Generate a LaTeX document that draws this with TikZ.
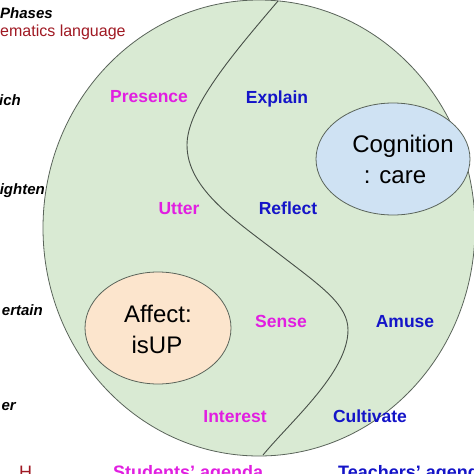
\documentclass[tikz,border=0pt]{standalone}
\usepackage{fontspec}
\setmainfont{Liberation Sans}
\usetikzlibrary{shapes.geometric}
\definecolor{bgreen}{RGB}{217,234,211}
\definecolor{cblue}{RGB}{207,226,243}
\definecolor{aorange}{RGB}{252,229,205}
\definecolor{edge}{RGB}{90,100,90}
\definecolor{stud}{RGB}{225,30,225}
\definecolor{teach}{RGB}{20,20,200}
\definecolor{dred}{RGB}{160,25,35}
\tikzset{
  lab/.style={anchor=base, inner sep=0pt, font=\fontsize{17.5}{20}\selectfont\bfseries},
  slab/.style={lab, text=stud},
  tlab/.style={lab, text=teach},
  big/.style={anchor=base, inner sep=0pt, font=\fontsize{24}{28}\selectfont},
  side/.style={anchor=base east, inner sep=0pt, font=\fontsize{15}{18}\selectfont\bfseries\itshape},
  agenda/.style={anchor=base west, inner sep=0pt, font=\fontsize{18}{20}\selectfont\bfseries},
}
\begin{document}
\begin{tikzpicture}[x=1pt,y=-1pt]
\useasboundingbox (0,0) rectangle (474,474);
\clip (0,0) rectangle (474,474);
\fill[white] (0,0) rectangle (474,474);
% big circle
\draw[edge, line width=0.8pt, fill=bgreen] (259,228) ellipse [x radius=216, y radius=228];
% S divider
\draw[edge!80!black, line width=0.9pt]
  (278,1) .. controls (232,55) and (187,108) .. (187,145)
          .. controls (187,190) and (238,222) .. (283,257)
          .. controls (322,287) and (348,305) .. (348,330)
          .. controls (348,372) and (292,420) .. (263,455);
% inner ellipses
\node[ellipse, draw=edge, line width=0.8pt, fill=cblue, minimum width=154pt, minimum height=112pt, inner sep=0pt] (cog) at (393,159) {};
\node[ellipse, draw=edge, line width=0.8pt, fill=aorange, minimum width=146pt, minimum height=112pt, inner sep=0pt] (aff) at (158,328) {};
\node[big] (cog1) at (403,152) {Cognition};
\node[big] (cog2) at (395,183) {: care};
\node[big] (aff1) at (158,322) {Affect:};
\node[big] (aff2) at (157,353) {isUP};
% labels
\node[slab] (presence) at (149,102) {Presence};
\node[tlab] (explain) at (277,103) {Explain};
\node[slab] (utter) at (179,214) {Utter};
\node[tlab] (reflect) at (288,214) {Reflect};
\node[slab] (sense) at (281,327) {Sense};
\node[tlab] (amuse) at (405,327) {Amuse};
\node[slab] (interest) at (235,422) {Interest};
\node[tlab] (cultivate) at (370,422) {Cultivate};
% left texts
\node[side, anchor=base west] (phases) at (0,18) {Phases};
\node[anchor=base west, inner sep=0pt, text=dred, font=\fontsize{16}{18}\selectfont] (lang) at (0,36) {ematics language};
\node[side] (s1) at (21,105) {ich};
\node[side] (s2) at (45,194) {ighten};
\node[side] (s3) at (43,315) {ertain};
\node[side] (s4) at (16,410) {er};
% bottom
\node[agenda, text=dred, font=\fontsize{18}{20}\selectfont] (h) at (19,478) {H};
\node[agenda, text=stud] (students) at (113,478) {Students’ agenda};
\node[agenda, text=teach] (teachers) at (338,478) {Teachers’ agenda};
\end{tikzpicture}
\end{document}
